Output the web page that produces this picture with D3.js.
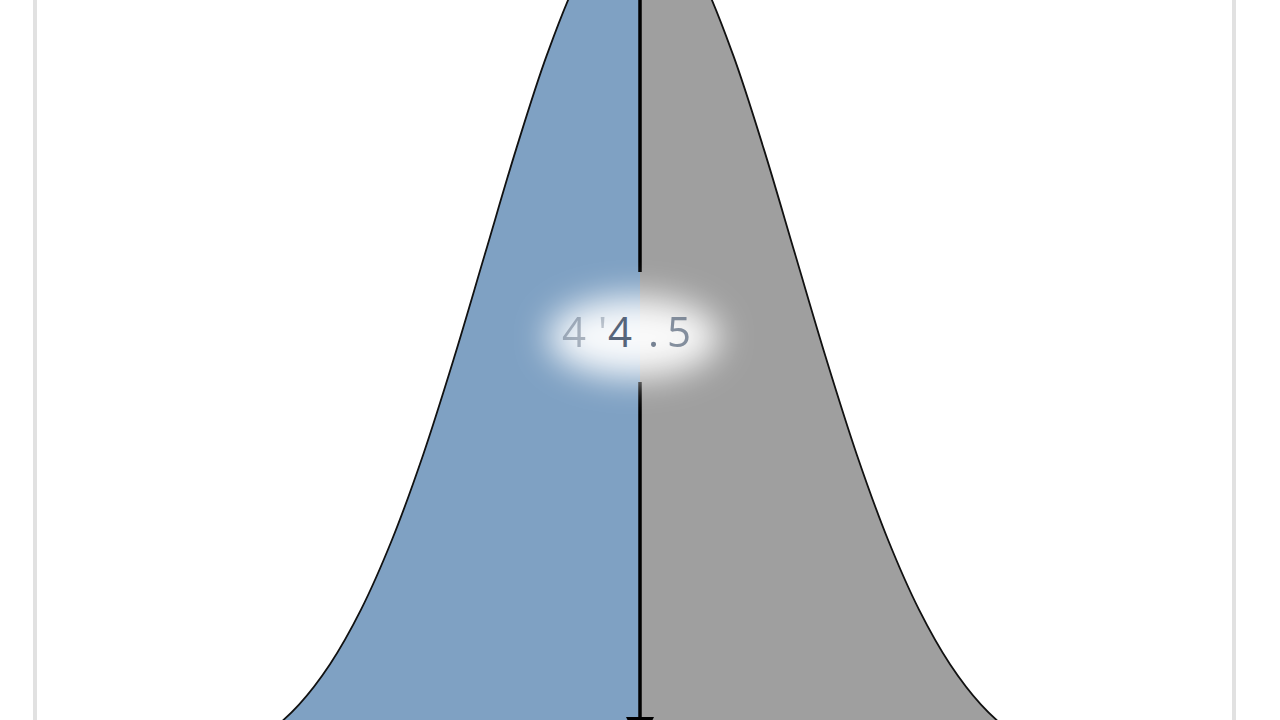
<!DOCTYPE html>
<html>
<head>
<meta charset="utf-8">
<script src="https://cdn.jsdelivr.net/npm/d3@7"></script>
<style>
    body { margin: 0; background: #fff; }
    svg { display: block; }
</style>
</head>
<body>
<svg width="1280" height="720"></svg>
<script>
// height in inches, density
const heights = [44.5, 45, 45.5, 46, 46.5, 47, 47.5, 48, 48.5, 49, 49.5, 50, 50.5, 51, 51.5, 52, 52.5,
    53, 53.5, 54, 54.5, 55, 55.5, 56, 56.5, 57, 57.5, 58, 58.5, 59, 59.5, 60, 60.5];
const density = [0.0010, 0.0018, 0.0032, 0.0054, 0.0090, 0.0142, 0.0216, 0.0316, 0.0444, 0.0599,
    0.0777, 0.0968, 0.1159, 0.1333, 0.1473, 0.1564, 0.1596,
    0.1564, 0.1473, 0.1333, 0.1159, 0.0968, 0.0777, 0.0599, 0.0444, 0.0316, 0.0216, 0.0142,
    0.0090, 0.0054, 0.0032, 0.0018, 0.0010];
const marker = 52.5;
const markerLabel = ["4", "'", "4", ".", "5"];

const svg = d3.select("svg");
const x = d3.scaleLinear([44.5, 60.5], [144, 1136]);
const y = d3.scaleLinear([0, 0.16], [782, -91]);

const pts = heights.map((h, i) => ({ h: h, d: density[i] }));

// frame edges
svg.append("rect")
    .attr("x", 35).attr("y", -10)
    .attr("width", 1199).attr("height", 740)
    .attr("fill", "none")
    .attr("stroke", "#e1e1e1")
    .attr("stroke-width", 4);

const area = d3.area()
    .x(d => x(d.h))
    .y0(y(0))
    .y1(d => y(d.d))
    .curve(d3.curveCatmullRom);

svg.append("path")
    .datum(pts.filter(d => d.h <= marker))
    .attr("d", area)
    .attr("fill", "#7fa1c3");

svg.append("path")
    .datum(pts.filter(d => d.h >= marker))
    .attr("d", area)
    .attr("fill", "#9f9f9f");

svg.append("path")
    .datum(pts)
    .attr("d", d3.line().x(d => x(d.h)).y(d => y(d.d)).curve(d3.curveCatmullRom))
    .attr("fill", "none")
    .attr("stroke", "#111")
    .attr("stroke-width", 1.8);

// marker line, broken by the label
const cx = x(marker);
[[y(0.1596), 272], [382, 718]].forEach(s => {
    svg.append("line")
        .attr("x1", cx).attr("x2", cx)
        .attr("y1", s[0]).attr("y2", s[1])
        .attr("stroke", "#000")
        .attr("stroke-width", 3.5);
});
svg.append("path")
    .attr("d", `M${cx - 14},717 L${cx + 14},717 L${cx},745 Z`)
    .attr("fill", "#000");

// label with soft white halo
const defs = svg.append("defs");
defs.append("filter")
    .attr("id", "glow")
    .attr("x", "-50%").attr("y", "-50%")
    .attr("width", "200%").attr("height", "200%")
    .append("feGaussianBlur")
    .attr("stdDeviation", 17);

svg.append("ellipse")
    .attr("cx", 634).attr("cy", 337)
    .attr("rx", 86).attr("ry", 40)
    .attr("fill", "#fff")
    .attr("opacity", 0.95)
    .attr("filter", "url(#glow)");

const labelX = [562, 598, 608, 648, 667];
const labelOp = [0.45, 0.35, 1, 0.8, 0.7];
svg.append("text")
    .attr("y", 347)
    .attr("font-family", "Open Sans, sans-serif")
    .attr("font-size", 42)
    .attr("fill", "#56657a")
    .selectAll("tspan")
    .data(markerLabel)
    .join("tspan")
    .attr("x", (d, i) => labelX[i])
    .attr("opacity", (d, i) => labelOp[i])
    .text(d => d);
</script>
</body>
</html>
